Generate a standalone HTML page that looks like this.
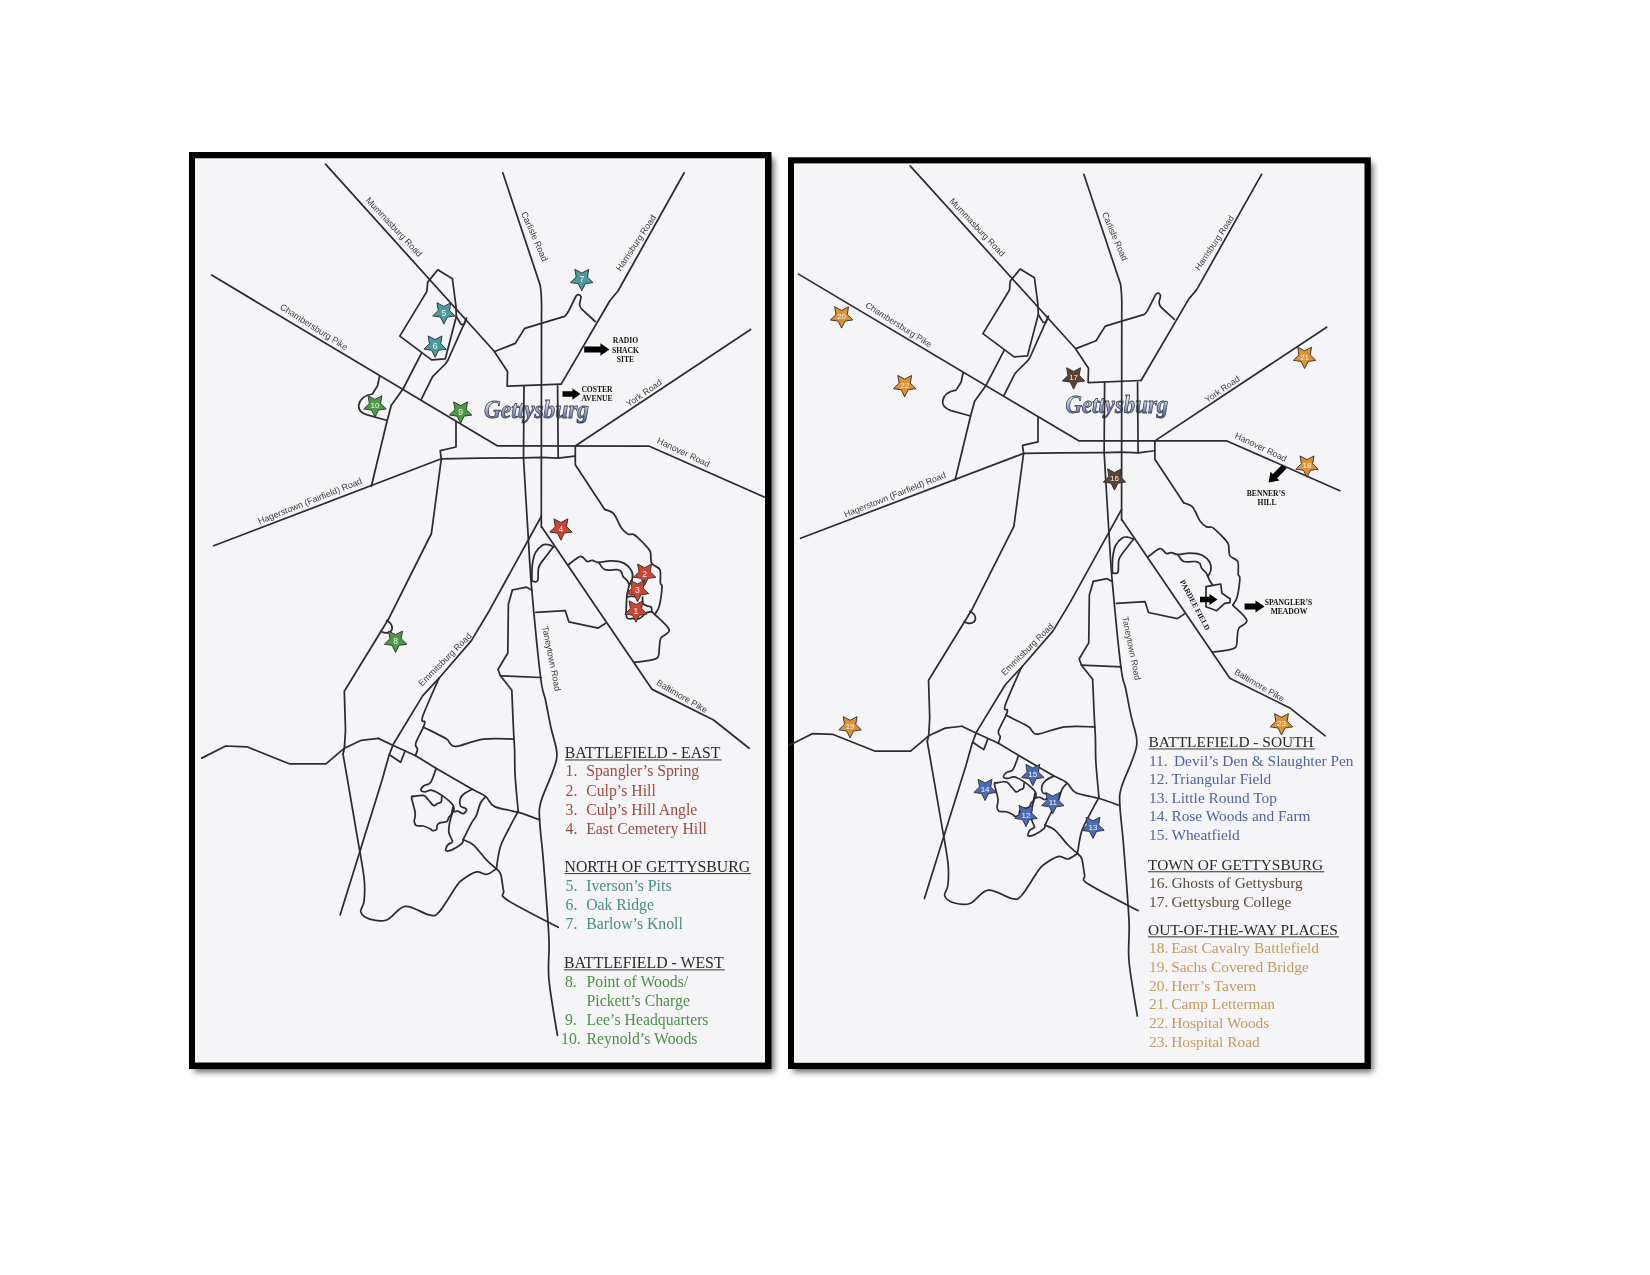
<!DOCTYPE html>
<html><head><meta charset="utf-8"><title>Gettysburg Maps</title>
<style>
html,body{margin:0;padding:0;background:#fff;width:1650px;height:1275px;overflow:hidden}
svg{display:block;will-change:transform}
.rl{font-family:"Liberation Sans",sans-serif;fill:#3c3c3c}
.gb{font-family:"Liberation Serif",serif;font-weight:bold;font-style:italic;fill:url(#gg);stroke:#3e4250;stroke-width:0.8}
.sn{font-family:"Liberation Sans",sans-serif;fill:#f4f4f4}
.ab{font-family:"Liberation Serif",serif;font-weight:bold;font-size:7.6px;fill:#111}
.lg{font-family:"Liberation Serif",serif}
</style></head><body>
<svg width="1650" height="1275" viewBox="0 0 1650 1275"><defs>
<filter id="sh" x="-5%" y="-5%" width="115%" height="115%"><feGaussianBlur stdDeviation="3.2"/></filter>
<linearGradient id="gg" x1="0" y1="0" x2="0" y2="1"><stop offset="0" stop-color="#a9acb8"/><stop offset="0.3" stop-color="#e4e7ee"/><stop offset="0.6" stop-color="#8f9dc8"/><stop offset="1" stop-color="#3a56a6"/></linearGradient>
</defs><rect width="1650" height="1275" fill="#ffffff"/><g filter="url(#sh)" fill="#000" opacity="0.6"><rect x="194" y="158" width="580" height="914"/><rect x="793" y="163" width="580" height="909"/></g><rect x="189" y="152" width="582.5" height="917" fill="#000"/><rect x="788" y="157.3" width="582.8" height="911.7" fill="#000"/><rect x="195" y="158.3" width="570" height="904.2" fill="#f9f9fb"/><rect x="196" y="159.3" width="568" height="902.2" fill="#f5f5f8"/><rect x="794" y="163.4" width="570.5" height="899.4" fill="#f9f9fb"/><rect x="795" y="164.4" width="568.5" height="897.4" fill="#f5f5f8"/><g id="base"><text x="394" y="227" transform="rotate(46.8 394 227)" text-anchor="middle" dominant-baseline="central" class="rl" font-size="8.9">Mummasburg Road</text><text x="314" y="327" transform="rotate(32.5 314 327)" text-anchor="middle" dominant-baseline="central" class="rl" font-size="8.9">Chambersburg Pike</text><text x="534.5" y="236.5" transform="rotate(66.3 534.5 236.5)" text-anchor="middle" dominant-baseline="central" class="rl" font-size="8.9">Carlisle Road</text><text x="636" y="243" transform="rotate(-56.6 636 243)" text-anchor="middle" dominant-baseline="central" class="rl" font-size="8.9">Harrisburg Road</text><text x="644" y="393" transform="rotate(-34.6 644 393)" text-anchor="middle" dominant-baseline="central" class="rl" font-size="8.9">York Road</text><text x="683.5" y="452.3" transform="rotate(25.5 683.5 452.3)" text-anchor="middle" dominant-baseline="central" class="rl" font-size="8.9">Hanover Road</text><text x="682" y="696.3" transform="rotate(30.2 682 696.3)" text-anchor="middle" dominant-baseline="central" class="rl" font-size="8.9">Baltimore Pike</text><text x="551.5" y="658.5" transform="rotate(78.7 551.5 658.5)" text-anchor="middle" dominant-baseline="central" class="rl" font-size="8.9">Taneytown Road</text><text x="310" y="501" transform="rotate(-21.7 310 501)" text-anchor="middle" dominant-baseline="central" class="rl" font-size="8.9">Hagerstown (Fairfield) Road</text><text x="445" y="659.5" transform="rotate(-45 445 659.5)" text-anchor="middle" dominant-baseline="central" class="rl" font-size="8.9">Emmitsburg Road</text><text x="484" y="417.5" class="gb" font-size="25.5" textLength="105" lengthAdjust="spacingAndGlyphs">Gettysburg</text><g fill="none" stroke="#2c2c30" stroke-width="1.75" stroke-linejoin="round" stroke-linecap="round"><path d="M325.5,164.1 L494.0,351.0 L507.5,371.5 L507.2,386.2 L561.2,384.1" /><path d="M684.2,172.8 L618.0,291.0 L610.0,300.5 L561.2,384.1" /><path d="M495.3,351.2 L515.3,343.4 L524.7,328.4 L564.6,316.4 C566.5,315 567.5,313 568.7,310.8 L575.8,296.5 C576.8,294.5 579.5,293.5 580.9,296.5 C581.5,298.5 579.5,301.5 579.6,304.5 C579.8,306.8 580.5,308 582,309.3 L595.2,321.5" /><path d="M502.8,172.8 L540.2,285.3 Q541.9,295 541.5,315 L541.3,527" /><path d="M524.0,386.0 L523.5,458.0" /><path d="M523.5,458.0 C524.3,471.1 526.8,514.5 528.2,536.5 C529.6,558.5 529.7,566.5 531.8,590.0 C533.9,613.5 538.3,659.2 540.6,677.5 C542.9,695.8 543.8,691.7 545.5,700.0 C547.2,708.3 549.1,719.1 550.9,727.3 C552.7,735.5 555.5,743.6 556.4,749.1 C557.3,754.6 557.3,755.5 556.4,760.0 C555.5,764.5 553.5,769.4 550.9,776.4 C548.3,783.4 542.8,794.5 540.9,801.8 C539.0,809.1 539.1,810.1 539.6,820.4 C540.1,830.7 542.1,844.1 543.6,863.6 C545.1,883.1 548.0,918.4 548.9,937.6 C549.8,956.8 547.5,962.6 548.9,978.9 C550.3,995.2 556.0,1025.9 557.4,1035.3" /><path d="M557.6,386.0 L558.2,458.2" /><path d="M211.6,275.1 L497.6,445.9 L648.8,446.0 L764.1,497.0" /><path d="M213.7,545.8 L441.3,458.8 L480.0,458.2 L523.5,457.9 L541.2,457.4 L558.2,458.2 L574.7,456.1" /><path d="M750.6,329.5 L575.3,446.0 L575.3,464.7 L604.7,509.4" /><path d="M604.7,509.4 C606.0,509.9 610.7,511.2 612.7,512.7 C614.7,514.2 615.1,515.8 616.5,518.3 C617.9,520.8 619.3,525.1 621.2,527.7 C623.1,530.3 625.8,532.8 627.8,533.9 C629.8,535.0 631.8,533.8 633.4,534.4 C635.0,535.0 635.0,535.2 637.2,537.2 C639.4,539.2 644.4,544.1 646.6,546.6 C648.8,549.1 649.5,549.4 650.4,552.2 C651.3,555.0 650.2,560.6 651.8,563.5 C653.4,566.4 658.5,566.4 659.9,569.6 C661.3,572.8 660.0,580.1 660.4,582.8 C660.8,585.5 661.9,583.5 662.0,585.9 C662.1,588.3 661.5,593.5 661.0,597.1 C660.5,600.7 659.9,604.4 658.9,607.3 C657.9,610.2 655.5,613.2 654.8,614.4" /><path d="M654.8,614.4 C657.2,617.0 668.1,625.8 669.1,629.7 C670.1,633.6 662.6,635.0 661.0,637.9 C659.4,640.8 659.9,643.9 659.4,647.1 C658.9,650.3 659.5,655.1 657.9,657.3 C656.3,659.5 653.6,659.5 649.7,660.3 C645.8,661.1 637.0,662.0 634.4,662.3" /><path d="M541.8,527.0 L651.8,689.1 L713.6,720.0 L749.1,748.2" /><path d="M541.2,516.5 L489.0,611.2 L471.4,640.6 L439.0,678.2 L422.6,695.9 L393.3,744.2 L389.0,755.4 L382.1,780.0 L340.1,914.9" /><path d="M439.0,678.2 C436.3,684.6 425.0,709.3 422.6,716.6 C420.2,723.9 424.7,720.1 424.8,721.8 C424.9,723.5 425.0,723.3 423.5,726.9 C422.0,730.5 416.7,739.5 415.7,743.3 C414.7,747.0 417.6,747.3 417.5,749.4 C417.4,751.5 415.7,754.7 415.3,755.8" /><path d="M201.7,758.1 L225.7,746.0 L246.9,746.8 L289.3,763.8 L326.0,763.8 L344.4,748.2 L361.3,740.3 L378.3,738.4" /><path d="M378.3,738.4 L393.3,745.5 L415.7,755.8 L436.4,768.4 L472.3,789.3" /><path d="M472.3,789.3 C474.5,790.5 481.9,793.5 485.6,796.4 C489.3,799.3 489.3,804.0 494.7,806.6 C500.1,809.2 510.2,810.0 517.7,812.2 C525.2,814.4 536.0,818.5 539.6,819.8" /><path d="M441.3,458.8 L431.4,533.5 L389.0,618.2 L344.3,691.2 L345.5,730.0 L344.4,748.2 L343.0,754.0" /><path d="M343.0,754.0 C345.4,767.6 353.6,815.1 357.1,835.8 C360.6,856.5 362.9,867.4 364.1,878.2 C365.3,889.0 364.7,895.1 364.1,900.8 C363.6,906.4 359.9,909.0 360.8,912.1 C361.8,915.2 365.5,917.9 369.8,919.2 C374.1,920.5 380.8,922.1 386.7,920.0 C392.6,917.9 398.0,907.2 405.1,906.4 C412.2,905.5 423.5,913.9 429.1,914.9 C434.8,915.9 434.5,916.8 439.0,912.1 C443.5,907.4 452.1,892.1 456.0,886.7 C459.9,881.4 458.7,882.5 462.1,880.0 C465.5,877.5 472.3,872.8 476.4,871.9 C480.5,871.0 483.3,874.9 486.6,874.4 C489.9,873.9 494.7,869.7 496.3,868.8" /><path d="M421.4,353.3 L403.0,389.0 L391.3,405.3 L387.2,420.5 L371.4,486.0" /><path d="M466.5,318.4 L448.0,360.0 L445.8,363.5 L432.6,376.7 L421.4,399.1" /><path d="M437.8,269.8 L452.4,278.8 L455.9,305.5 L456.3,316.5 L445.3,358.9 L431.6,359.9 L399.8,336.1 L426.9,291.4 L427.6,282.4 Z" /><path d="M456.3,316.5 L461.0,324.3 L464.1,324.7 L466.5,318.4" /><path d="M379.6,376.2 L377.5,385.9 L372.4,394 Q360,396 358.7,405.3 Q358,412 367.3,414.9 L387.2,420.5" /><path d="M386.6,620.6 C393,624 394,630 389,632.4 C386,633.5 382,632.5 380.8,631.2" /><path d="M456.0,421.5 L456.0,447.0 L440.2,450.6 L441.3,458.8" /><path d="M531.8,581.2 C531.9,578.5 531.8,569.4 532.4,564.7 C533.0,560.0 533.6,556.1 535.3,552.9 C537.0,549.7 540.2,546.7 542.4,545.3 C544.5,543.9 546.4,544.5 548.2,544.7 C550.1,545.0 552.6,546.4 553.5,546.8" /><path d="M553.5,546.8 C552.2,548.4 548.4,553.1 545.9,556.5 C543.4,559.9 540.2,563.1 538.8,567.1 C537.4,571.1 538.8,578.2 537.6,580.6 C536.4,583.0 532.8,581.1 531.8,581.2" /><path d="M512.4,590.0 L508.4,604.0 L507.8,653.0 L498.0,669.5 L500.4,675.8 L511.8,690.2 M511.8,690.2 C512.1,696.8 513.0,720.0 513.5,730.0 C514.0,740.0 514.3,742.4 514.6,750.0 C514.9,757.6 514.5,765.3 515.1,775.5 C515.7,785.7 517.7,805.2 518.2,811.2" /><path d="M518.2,811.2 C516.7,814.1 512.0,822.5 509.0,828.5 C506.0,834.5 502.4,840.2 500.3,846.9 C498.2,853.6 497.0,865.1 496.3,868.8" /><path d="M496.3,868.8 C497.1,869.7 499.6,870.7 500.8,874.4 C502.0,878.1 502.5,886.6 503.6,890.9 C504.7,895.2 498.2,893.9 507.3,900.0 C516.4,906.1 549.7,922.8 558.2,927.3" /><path d="M512.4,590.0 L526.5,587.2 L531.8,590.0" /><path d="M500.4,675.8 L541.0,677.5" /><path d="M535.9,612.4 L565.3,610.7 L568.8,621.8 L598.2,628.1 L605.3,623.4" /><path d="M568.2,565.0 C570.2,563.5 577.3,556.9 580.4,556.3 C583.5,555.7 585.0,560.7 587.0,561.4 C589.0,562.1 590.1,560.2 592.1,560.4 C594.1,560.6 595.6,562.3 598.7,562.4 C601.9,562.5 606.9,560.8 611.0,560.9 C615.1,561.0 619.8,561.3 623.2,562.9 C626.6,564.5 629.9,568.0 631.4,570.6 C632.9,573.2 632.8,576.3 632.4,578.7 C632.0,581.1 629.8,583.9 629.3,584.9" /><path d="M598.7,562.4 C599.7,563.6 601.8,568.4 604.9,569.6 C608.0,570.8 614.4,569.3 617.1,569.6 C619.8,569.9 620.2,570.4 621.2,571.6 C622.2,572.8 622.2,575.2 623.2,576.7 C624.2,578.2 626.3,579.4 627.3,580.8 C628.3,582.2 629.0,584.2 629.3,584.9" /><path d="M423.1,726.9 C426.9,728.9 441.4,735.9 445.9,738.6 C450.4,741.3 448.2,742.0 450.0,743.3 C451.8,744.6 450.8,747.1 456.4,746.4 C462.0,745.7 474.0,740.3 483.6,739.1 C493.2,737.9 508.9,739.1 514.0,739.1" /><path d="M389.8,755.0 L400.6,762.3 L404.9,751.5" /><path d="M436.1,768.4 C435.2,770.8 432.5,779.7 430.5,782.6 C428.5,785.5 425.5,784.4 423.9,785.7 C422.3,787.0 420.6,789.3 420.8,790.3 C421.1,791.3 423.5,791.8 425.4,791.8 C427.3,791.8 429.1,789.6 432.0,790.3 C434.9,791.0 439.2,793.4 442.7,795.9 C446.2,798.4 451.0,802.5 452.9,805.1 C454.8,807.7 453.7,810.6 453.9,811.7" /><path d="M413.2,796.4 C414.9,796.2 420.8,794.8 423.4,795.4 C425.9,796.0 426.8,798.3 428.5,800.0 C430.2,801.7 432.1,805.0 433.6,805.6 C435.1,806.2 436.3,804.1 437.6,803.5 C438.9,802.9 440.5,803.1 441.2,802.0 C441.9,800.9 441.6,797.8 441.7,796.9" /><path d="M452.9,807.1 C452.6,808.3 452.1,812.5 451.4,814.2 C450.7,815.9 449.6,816.1 448.8,817.3 C448.0,818.5 448.3,820.5 446.8,821.4 C445.3,822.3 441.3,822.2 439.7,822.9 C438.1,823.6 437.6,824.4 437.1,825.5 C436.6,826.6 437.4,828.6 436.6,829.5 C435.8,830.4 433.5,830.7 432.5,830.6 C431.5,830.5 432.0,829.8 430.5,829.0 C429.0,828.2 425.8,826.6 423.4,826.0 C421.0,825.4 417.7,826.3 416.2,825.5 C414.7,824.7 414.4,823.4 414.2,821.4 C414.0,819.4 415.6,817.1 415.2,813.2 C414.8,809.3 411.9,800.7 411.6,797.9 C411.3,795.1 412.9,796.6 413.2,796.4" /><path d="M452.9,811.2 C452.4,812.9 450.6,818.0 449.9,821.4 C449.2,824.8 448.6,828.9 448.8,831.6 C449.0,834.3 450.3,836.0 450.9,837.7 C451.5,839.4 452.9,840.6 452.4,841.8 C451.9,843.0 448.9,843.6 447.8,844.8 C446.7,846.0 446.0,847.9 445.8,848.9 C445.6,849.9 445.6,850.9 446.8,851.0 C448.0,851.1 450.3,850.7 452.9,849.4 C455.4,848.1 460.4,844.9 462.1,843.3 C463.8,841.7 462.9,840.3 463.1,839.7" /><path d="M453.9,811.7 C454.6,811.6 456.5,810.9 458.0,811.2 C459.5,811.5 461.7,813.9 463.1,813.7 C464.6,813.5 466.4,811.1 466.7,810.2 C467.0,809.3 466.2,808.8 465.2,808.1 C464.2,807.4 461.5,807.6 460.6,806.1 C459.8,804.6 459.5,801.0 460.1,799.0 C460.7,797.0 462.1,795.4 464.1,793.8 C466.1,792.2 470.9,790.0 472.3,789.3" /><path d="M485.6,796.9 C484.8,797.9 482.0,799.9 480.5,803.0 C479.0,806.1 477.9,811.9 476.4,815.3 C474.9,818.7 473.5,819.3 471.3,823.4 C469.1,827.5 464.5,837.0 463.1,839.7" /><path d="M463.1,839.7 C464.8,840.6 469.4,841.4 473.3,844.8 C477.2,848.2 482.8,856.1 486.6,860.1 C490.4,864.1 494.7,867.3 496.3,868.8" /></g></g><use href="#base" transform="matrix(0.9798 0 0 0.9759 591.2 5.66)"/><g fill="none" stroke="#2c2c30" stroke-width="1.75" stroke-linejoin="round" stroke-linecap="round"><path d="M629.3,584.9 C629.0,585.9 628.2,589.0 627.8,591.0 C627.4,593.0 627.0,594.6 626.8,597.1 C626.5,599.6 626.4,603.2 626.3,606.3 C626.2,609.3 626.0,613.4 626.3,615.4 C626.5,617.4 626.6,618.0 627.8,618.5 C629.0,619.0 631.4,618.7 633.4,618.7 C635.4,618.7 637.3,619.5 639.5,618.5 C641.7,617.5 644.7,613.7 646.7,612.6 C648.7,611.5 650.0,611.7 651.3,611.9 C652.6,612.1 653.8,613.6 654.3,613.9" /><path d="M626.8,597.1 C627.6,596.9 629.9,596.1 631.4,596.1 C632.9,596.1 635.2,596.9 636.0,597.0" /><path d="M642.6,597.1 C642.7,598.2 642.1,602.2 643.1,603.7 C644.1,605.2 647.3,605.7 648.7,606.3 C650.1,606.9 650.8,606.4 651.3,607.3 C651.8,608.1 651.7,610.7 651.8,611.4" /><path d="M1207.6,575.1 L1209.3,580 L1212.7,585.3" /><path d="M1212.7,585.3 L1206,586.7 L1206,606.7 L1216.7,610.7 L1224.7,603.3 L1230,602.7 L1230,598.7 L1222,593.3 L1220.7,584 L1212.7,585.3" /></g><polygon points="584.2,346.5 600.4,346.5 600.4,343.25 609.4,349.5 600.4,355.75 600.4,352.5 584.2,352.5" fill="#000"/><polygon points="562.5,391.3 572.4,391.3 572.4,388.2 580.4,394 572.4,399.8 572.4,396.7 562.5,396.7" fill="#000"/><text class="ab" x="625.5" y="343.2" text-anchor="middle">RADIO</text><text class="ab" x="625.5" y="352.6" text-anchor="middle">SHACK</text><text class="ab" x="625.5" y="361.8" text-anchor="middle">SITE</text><text class="ab" x="597" y="392" text-anchor="middle">COSTER</text><text class="ab" x="597" y="401.2" text-anchor="middle">AVENUE</text><polygon points="1200,596.8 1209.5,596.8 1209.5,594.0 1217.5,599.5 1209.5,605.0 1209.5,602.2 1200,602.2" fill="#000"/><polygon points="1244.6,603.5 1255.5,603.5 1255.5,600.5 1264.5,606.5 1255.5,612.5 1255.5,609.5 1244.6,609.5" fill="#000"/><g transform="translate(1284.5,466.5) rotate(135)"><polygon points="0,-3.0 13.5,-3.0 13.5,-6.25 22.5,0 13.5,6.25 13.5,3.0 0,3.0" fill="#000"/></g><text class="ab" x="1266" y="496" text-anchor="middle">BENNER’S</text><text class="ab" x="1267" y="505.3" text-anchor="middle">HILL</text><text class="ab" x="1288.5" y="605" text-anchor="middle">SPANGLER’S</text><text class="ab" x="1289" y="614" text-anchor="middle">MEADOW</text><text class="ab" x="1195" y="605" text-anchor="middle" dominant-baseline="central" transform="rotate(62 1195 605)">PARDEE FIELD</text><polygon points="636.0,622.2 632.53,615.17 624.78,614.05 630.39,608.58 629.06,600.85 636.0,604.5 642.94,600.85 641.61,608.58 647.22,614.05 639.47,615.17" fill="#cf4431" stroke="#2b2b2b" stroke-width="0.9" stroke-linejoin="miter"/><text x="636" y="610.6999999999999" text-anchor="middle" dominant-baseline="central" class="sn" font-size="8.6">1</text><polygon points="644.6,585.4 641.13,578.37 633.38,577.25 638.99,571.78 637.66,564.05 644.6,567.7 651.54,564.05 650.21,571.78 655.82,577.25 648.07,578.37" fill="#cf4431" stroke="#2b2b2b" stroke-width="0.9" stroke-linejoin="miter"/><text x="644.6" y="573.9" text-anchor="middle" dominant-baseline="central" class="sn" font-size="8.6">2</text><polygon points="637.5,601.8 634.03,594.77 626.28,593.65 631.89,588.18 630.56,580.45 637.5,584.1 644.44,580.45 643.11,588.18 648.72,593.65 640.97,594.77" fill="#cf4431" stroke="#2b2b2b" stroke-width="0.9" stroke-linejoin="miter"/><text x="637.5" y="590.3" text-anchor="middle" dominant-baseline="central" class="sn" font-size="8.6">3</text><polygon points="560.9,540.2 557.43,533.17 549.68,532.05 555.29,526.58 553.96,518.85 560.9,522.5 567.84,518.85 566.51,526.58 572.12,532.05 564.37,533.17" fill="#cf4431" stroke="#2b2b2b" stroke-width="0.9" stroke-linejoin="miter"/><text x="560.9" y="528.6999999999999" text-anchor="middle" dominant-baseline="central" class="sn" font-size="8.6">4</text><polygon points="443.9,324.1 440.43,317.07 432.68,315.95 438.29,310.48 436.96,302.75 443.9,306.4 450.84,302.75 449.51,310.48 455.12,315.95 447.37,317.07" fill="#4a9b9b" stroke="#2b2b2b" stroke-width="0.9" stroke-linejoin="miter"/><text x="443.9" y="312.6" text-anchor="middle" dominant-baseline="central" class="sn" font-size="8.6">5</text><polygon points="435.1,357.3 431.63,350.27 423.88,349.15 429.49,343.68 428.16,335.95 435.1,339.6 442.04,335.95 440.71,343.68 446.32,349.15 438.57,350.27" fill="#4a9b9b" stroke="#2b2b2b" stroke-width="0.9" stroke-linejoin="miter"/><text x="435.1" y="345.8" text-anchor="middle" dominant-baseline="central" class="sn" font-size="8.6">6</text><polygon points="581.8,290.7 578.33,283.67 570.58,282.55 576.19,277.08 574.86,269.35 581.8,273.0 588.74,269.35 587.41,277.08 593.02,282.55 585.27,283.67" fill="#4a9b9b" stroke="#2b2b2b" stroke-width="0.9" stroke-linejoin="miter"/><text x="581.8" y="279.2" text-anchor="middle" dominant-baseline="central" class="sn" font-size="8.6">7</text><polygon points="395.6,652.4 392.13,645.37 384.38,644.25 389.99,638.78 388.66,631.05 395.6,634.7 402.54,631.05 401.21,638.78 406.82,644.25 399.07,645.37" fill="#4b9b45" stroke="#2b2b2b" stroke-width="0.9" stroke-linejoin="miter"/><text x="395.6" y="640.9" text-anchor="middle" dominant-baseline="central" class="sn" font-size="8.6">8</text><polygon points="460.6,423.2 457.13,416.17 449.38,415.05 454.99,409.58 453.66,401.85 460.6,405.5 467.54,401.85 466.21,409.58 471.82,415.05 464.07,416.17" fill="#4b9b45" stroke="#2b2b2b" stroke-width="0.9" stroke-linejoin="miter"/><text x="460.6" y="411.7" text-anchor="middle" dominant-baseline="central" class="sn" font-size="8.6">9</text><polygon points="375.0,417.1 371.53,410.07 363.78,408.95 369.39,403.48 368.06,395.75 375.0,399.4 381.94,395.75 380.61,403.48 386.22,408.95 378.47,410.07" fill="#4b9b45" stroke="#2b2b2b" stroke-width="0.9" stroke-linejoin="miter"/><text x="375" y="405.6" text-anchor="middle" dominant-baseline="central" class="sn" font-size="8.0">10</text><polygon points="1052.8,813.8 1049.33,806.77 1041.58,805.65 1047.19,800.18 1045.86,792.45 1052.8,796.1 1059.74,792.45 1058.41,800.18 1064.02,805.65 1056.27,806.77" fill="#4a6cb8" stroke="#2b2b2b" stroke-width="0.9" stroke-linejoin="miter"/><text x="1052.8" y="802.3" text-anchor="middle" dominant-baseline="central" class="sn" font-size="8.0">11</text><polygon points="1026.0,826.6 1022.53,819.57 1014.78,818.45 1020.39,812.98 1019.06,805.25 1026.0,808.9 1032.94,805.25 1031.61,812.98 1037.22,818.45 1029.47,819.57" fill="#4a6cb8" stroke="#2b2b2b" stroke-width="0.9" stroke-linejoin="miter"/><text x="1026" y="815.0999999999999" text-anchor="middle" dominant-baseline="central" class="sn" font-size="8.0">12</text><polygon points="1093.0,838.5 1089.53,831.47 1081.78,830.35 1087.39,824.88 1086.06,817.15 1093.0,820.8 1099.94,817.15 1098.61,824.88 1104.22,830.35 1096.47,831.47" fill="#4a6cb8" stroke="#2b2b2b" stroke-width="0.9" stroke-linejoin="miter"/><text x="1093" y="827.0" text-anchor="middle" dominant-baseline="central" class="sn" font-size="8.0">13</text><polygon points="985.1,800.6 981.63,793.57 973.88,792.45 979.49,786.98 978.16,779.25 985.1,782.9 992.04,779.25 990.71,786.98 996.32,792.45 988.57,793.57" fill="#4a6cb8" stroke="#2b2b2b" stroke-width="0.9" stroke-linejoin="miter"/><text x="985.1" y="789.0999999999999" text-anchor="middle" dominant-baseline="central" class="sn" font-size="8.0">14</text><polygon points="1032.8,785.7 1029.33,778.67 1021.58,777.55 1027.19,772.08 1025.86,764.35 1032.8,768.0 1039.74,764.35 1038.41,772.08 1044.02,777.55 1036.27,778.67" fill="#4a6cb8" stroke="#2b2b2b" stroke-width="0.9" stroke-linejoin="miter"/><text x="1032.8" y="774.1999999999999" text-anchor="middle" dominant-baseline="central" class="sn" font-size="8.0">15</text><polygon points="1114.5,490.2 1111.03,483.17 1103.28,482.05 1108.89,476.58 1107.56,468.85 1114.5,472.5 1121.44,468.85 1120.11,476.58 1125.72,482.05 1117.97,483.17" fill="#5e4333" stroke="#2b2b2b" stroke-width="0.9" stroke-linejoin="miter"/><text x="1114.5" y="478.7" text-anchor="middle" dominant-baseline="central" class="sn" font-size="8.0">16</text><polygon points="1073.6,389.1 1070.13,382.07 1062.38,380.95 1067.99,375.48 1066.66,367.75 1073.6,371.4 1080.54,367.75 1079.21,375.48 1084.82,380.95 1077.07,382.07" fill="#5e4333" stroke="#2b2b2b" stroke-width="0.9" stroke-linejoin="miter"/><text x="1073.6" y="377.6" text-anchor="middle" dominant-baseline="central" class="sn" font-size="8.0">17</text><polygon points="1307.0,477.3 1303.53,470.27 1295.78,469.15 1301.39,463.68 1300.06,455.95 1307.0,459.6 1313.94,455.95 1312.61,463.68 1318.22,469.15 1310.47,470.27" fill="#dd9234" stroke="#2b2b2b" stroke-width="0.9" stroke-linejoin="miter"/><text x="1307" y="465.8" text-anchor="middle" dominant-baseline="central" class="sn" font-size="8.0">18</text><polygon points="850.1,738.0 846.63,730.97 838.88,729.85 844.49,724.38 843.16,716.65 850.1,720.3 857.04,716.65 855.71,724.38 861.32,729.85 853.57,730.97" fill="#dd9234" stroke="#2b2b2b" stroke-width="0.9" stroke-linejoin="miter"/><text x="850.1" y="726.5" text-anchor="middle" dominant-baseline="central" class="sn" font-size="8.0">19</text><polygon points="841.6,328.1 838.13,321.07 830.38,319.95 835.99,314.48 834.66,306.75 841.6,310.4 848.54,306.75 847.21,314.48 852.82,319.95 845.07,321.07" fill="#dd9234" stroke="#2b2b2b" stroke-width="0.9" stroke-linejoin="miter"/><text x="841.6" y="316.6" text-anchor="middle" dominant-baseline="central" class="sn" font-size="8.0">20</text><polygon points="1304.6,368.5 1301.13,361.47 1293.38,360.35 1298.99,354.88 1297.66,347.15 1304.6,350.8 1311.54,347.15 1310.21,354.88 1315.82,360.35 1308.07,361.47" fill="#dd9234" stroke="#2b2b2b" stroke-width="0.9" stroke-linejoin="miter"/><text x="1304.6" y="357.0" text-anchor="middle" dominant-baseline="central" class="sn" font-size="8.0">21</text><polygon points="904.7,396.8 901.23,389.77 893.48,388.65 899.09,383.18 897.76,375.45 904.7,379.1 911.64,375.45 910.31,383.18 915.92,388.65 908.17,389.77" fill="#dd9234" stroke="#2b2b2b" stroke-width="0.9" stroke-linejoin="miter"/><text x="904.7" y="385.3" text-anchor="middle" dominant-baseline="central" class="sn" font-size="8.0">22</text><polygon points="1281.5,735.0 1278.03,727.97 1270.28,726.85 1275.89,721.38 1274.56,713.65 1281.5,717.3 1288.44,713.65 1287.11,721.38 1292.72,726.85 1284.97,727.97" fill="#dd9234" stroke="#2b2b2b" stroke-width="0.9" stroke-linejoin="miter"/><text x="1281.5" y="723.5" text-anchor="middle" dominant-baseline="central" class="sn" font-size="8.0">23</text><text class="lg" font-size="15.75" x="564.8" y="758.1" fill="#2a2a2a" textLength="155.6" lengthAdjust="spacingAndGlyphs">BATTLEFIELD - EAST</text><rect x="564.8" y="759.4" width="156.6" height="1.1" fill="#444"/><text class="lg" font-size="15.75" x="565.6" y="776.2" fill="#9c4c3f">1.</text><text class="lg" font-size="15.75" x="586.2" y="776.2" fill="#9c4c3f">Spangler’s Spring</text><text class="lg" font-size="15.75" x="565.6" y="795.9" fill="#9c4c3f">2.</text><text class="lg" font-size="15.75" x="586.2" y="795.9" fill="#9c4c3f">Culp’s Hill</text><text class="lg" font-size="15.75" x="565.6" y="814.9" fill="#9c4c3f">3.</text><text class="lg" font-size="15.75" x="586.2" y="814.9" fill="#9c4c3f">Culp’s Hill Angle</text><text class="lg" font-size="15.75" x="565.6" y="833.8" fill="#9c4c3f">4.</text><text class="lg" font-size="15.75" x="586.2" y="833.8" fill="#9c4c3f">East Cemetery Hill</text><text class="lg" font-size="15.75" x="564.5" y="871.7" fill="#2a2a2a" textLength="185.6" lengthAdjust="spacingAndGlyphs">NORTH OF GETTYSBURG</text><rect x="564.5" y="873.0" width="186.6" height="1.1" fill="#444"/><text class="lg" font-size="15.75" x="565.6" y="890.6" fill="#4a8d88">5.</text><text class="lg" font-size="15.75" x="586.2" y="890.6" fill="#4a8d88">Iverson’s Pits</text><text class="lg" font-size="15.75" x="565.6" y="909.5" fill="#4a8d88">6.</text><text class="lg" font-size="15.75" x="586.2" y="909.5" fill="#4a8d88">Oak Ridge</text><text class="lg" font-size="15.75" x="565.6" y="928.5" fill="#4a8d88">7.</text><text class="lg" font-size="15.75" x="586.2" y="928.5" fill="#4a8d88">Barlow’s Knoll</text><text class="lg" font-size="15.75" x="563.9" y="968" fill="#2a2a2a" textLength="159.7" lengthAdjust="spacingAndGlyphs">BATTLEFIELD - WEST</text><rect x="563.9" y="969.3" width="160.7" height="1.1" fill="#444"/><text class="lg" font-size="15.75" x="564.9" y="986.8" fill="#4b8f47">8.</text><text class="lg" font-size="15.75" x="586.5" y="986.8" fill="#4b8f47">Point of Woods/</text><text class="lg" font-size="15.75" x="564.9" y="1006.1" fill="#4b8f47"></text><text class="lg" font-size="15.75" x="586.5" y="1006.1" fill="#4b8f47">Pickett’s Charge</text><text class="lg" font-size="15.75" x="564.9" y="1024.9" fill="#4b8f47">9.</text><text class="lg" font-size="15.75" x="586.5" y="1024.9" fill="#4b8f47">Lee’s Headquarters</text><text class="lg" font-size="15.75" x="561.1" y="1043.7" fill="#4b8f47">10.</text><text class="lg" font-size="15.75" x="586.5" y="1043.7" fill="#4b8f47">Reynold’s Woods</text><text class="lg" font-size="15.4" x="1148.6" y="747.1" fill="#2a2a2a" textLength="165.1" lengthAdjust="spacingAndGlyphs">BATTLEFIELD - SOUTH</text><rect x="1148.6" y="748.4" width="166.1" height="1.1" fill="#444"/><text class="lg" font-size="15.4" x="1149" y="765.5" fill="#4d649f">11.</text><text class="lg" font-size="15.4" x="1174" y="765.5" fill="#4d649f">Devil’s Den &amp; Slaughter Pen</text><text class="lg" font-size="15.4" x="1149" y="783.7" fill="#4d649f">12.</text><text class="lg" font-size="15.4" x="1171.4" y="783.7" fill="#4d649f">Triangular Field</text><text class="lg" font-size="15.4" x="1149" y="802.6" fill="#4d649f">13.</text><text class="lg" font-size="15.4" x="1171.4" y="802.6" fill="#4d649f">Little Round Top</text><text class="lg" font-size="15.4" x="1149" y="821.3" fill="#4d649f">14.</text><text class="lg" font-size="15.4" x="1171.4" y="821.3" fill="#4d649f">Rose Woods and Farm</text><text class="lg" font-size="15.4" x="1149" y="839.7" fill="#4d649f">15.</text><text class="lg" font-size="15.4" x="1171.4" y="839.7" fill="#4d649f">Wheatfield</text><text class="lg" font-size="15.4" x="1148.1" y="869.9" fill="#2a2a2a" textLength="175.1" lengthAdjust="spacingAndGlyphs">TOWN OF GETTYSBURG</text><rect x="1148.1" y="871.1999999999999" width="176.1" height="1.1" fill="#444"/><text class="lg" font-size="15.4" x="1149" y="888" fill="#5b4c3d">16.</text><text class="lg" font-size="15.4" x="1171.4" y="888" fill="#5b4c3d">Ghosts of Gettysburg</text><text class="lg" font-size="15.4" x="1149" y="907" fill="#5b4c3d">17.</text><text class="lg" font-size="15.4" x="1171.4" y="907" fill="#5b4c3d">Gettysburg College</text><text class="lg" font-size="15.4" x="1148.1" y="935" fill="#2a2a2a" textLength="189.8" lengthAdjust="spacingAndGlyphs">OUT-OF-THE-WAY PLACES</text><rect x="1148.1" y="936.3" width="190.8" height="1.1" fill="#444"/><text class="lg" font-size="15.4" x="1149" y="953.3" fill="#c39a5c">18.</text><text class="lg" font-size="15.4" x="1171.2" y="953.3" fill="#c39a5c">East Cavalry Battlefield</text><text class="lg" font-size="15.4" x="1149" y="972.3" fill="#c39a5c">19.</text><text class="lg" font-size="15.4" x="1171.2" y="972.3" fill="#c39a5c">Sachs Covered Bridge</text><text class="lg" font-size="15.4" x="1149" y="990.5" fill="#c39a5c">20.</text><text class="lg" font-size="15.4" x="1171.2" y="990.5" fill="#c39a5c">Herr’s Tavern</text><text class="lg" font-size="15.4" x="1149" y="1009.4" fill="#c39a5c">21.</text><text class="lg" font-size="15.4" x="1171.2" y="1009.4" fill="#c39a5c">Camp Letterman</text><text class="lg" font-size="15.4" x="1149" y="1028.3" fill="#c39a5c">22.</text><text class="lg" font-size="15.4" x="1171.2" y="1028.3" fill="#c39a5c">Hospital Woods</text><text class="lg" font-size="15.4" x="1149" y="1046.5" fill="#c39a5c">23.</text><text class="lg" font-size="15.4" x="1171.2" y="1046.5" fill="#c39a5c">Hospital Road</text></svg>
</body></html>
